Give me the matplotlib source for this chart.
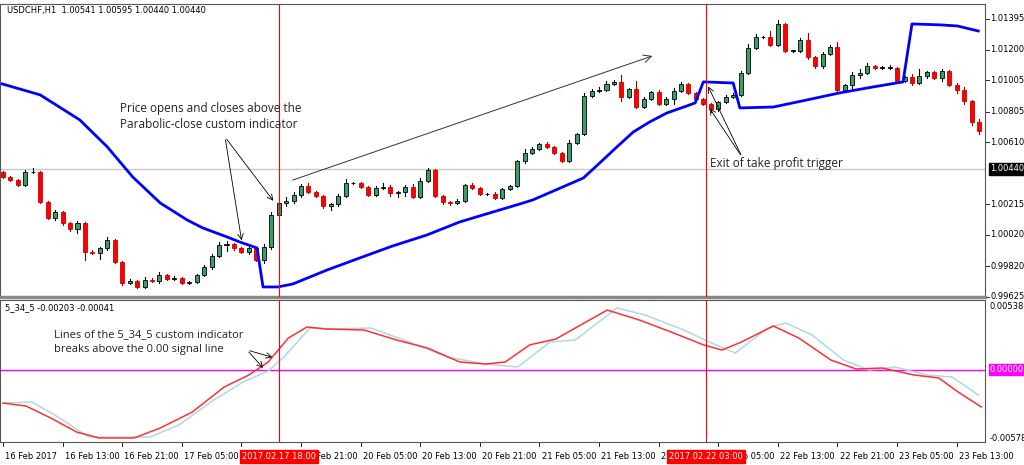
import matplotlib
matplotlib.use('Agg')
import matplotlib.pyplot as plt
from matplotlib.patches import Rectangle, FancyArrowPatch

plt.rcParams['font.family'] = ['Open Sans', 'DejaVu Sans']
NARROW = ['DejaVu Sans']

# USDCHF H1 closes (opens = previous close)
first_open = 1.00420
closes = [
    1.00389, 1.00369, 1.00338, 1.00420, 1.00420, 1.00229, 1.00127, 1.00166, 1.00096, 1.00057,
    1.00096, 0.99911, 0.99904, 0.99936, 0.99987, 0.99847, 0.99713, 0.99726, 0.99688, 0.99732,
    0.99726, 0.99764, 0.99739, 0.99745, 0.99713, 0.99720, 0.99764, 0.99815, 0.99885, 0.99955,
    0.99962, 0.99936, 0.99911, 0.99936, 0.99860, 0.99943, 1.00146, 1.00223, 1.00236, 1.00274,
    1.00331, 1.00293, 1.00268, 1.00204, 1.00217, 1.00268, 1.00350, 1.00350, 1.00325, 1.00274,
    1.00318, 1.00325, 1.00287, 1.00293, 1.00325, 1.00261, 1.00363, 1.00433, 1.00268, 1.00229,
    1.00223, 1.00236, 1.00338, 1.00318, 1.00280, 1.00280, 1.00255, 1.00312, 1.00331, 1.00490,
    1.00541, 1.00567, 1.00599, 1.00580, 1.00541, 1.00490, 1.00605, 1.00662, 1.00905, 1.00936,
    1.00943, 1.00981, 1.00994, 1.00898, 1.00949, 1.00834, 1.00885, 1.00930, 1.00854, 1.00885,
    1.00936, 1.00981, 1.00924, 1.00885, 1.00854, 1.00822, 1.00866, 1.00898, 1.00911, 1.01051,
    1.01210, 1.01280, 1.01280, 1.01229, 1.01363, 1.01191, 1.01191, 1.01261, 1.01153, 1.01096,
    1.01172, 1.01217, 1.00943, 1.00975, 1.01038, 1.01051, 1.01096, 1.01083, 1.01083, 1.01083,
    1.01000, 1.01026, 1.00987, 1.01032, 1.01057, 1.01019, 1.01064, 1.00975, 1.00943, 1.00873,
    1.00739, 1.00682,
]
# wick sizes above / below body, in pips
upper_wick = [
    1, 1, 1, 2, 4, 1, 1, 2, 1, 1, 2, 1, 2, 1, 3, 1, 1, 2, 1, 3, 2, 3, 1, 2, 1, 1, 1, 2, 2, 3,
    3, 1, 1, 1, 1, 3, 3, 2, 4, 3, 2, 3, 1, 1, 1, 2, 4, 1, 1, 1, 2, 4, 2, 1, 2, 3, 3, 2, 1, 1,
    1, 2, 1, 2, 1, 1, 2, 1, 1, 1, 4, 2, 1, 2, 1, 1, 3, 1, 3, 2, 3, 3, 2, 6, 1, 7, 2, 1, 2, 2,
    3, 2, 1, 1, 1, 1, 1, 2, 2, 2, 4, 3, 1, 5, 4, 1, 1, 2, 6, 1, 2, 2, 4, 1, 3, 4, 3, 1, 2, 3,
    1, 1, 3, 6, 1, 1, 2, 1, 2, 3, 1, 3,
]
lower_wick = [
    1, 1, 1, 1, 1, 1, 1, 2, 2, 2, 4, 7, 1, 5, 2, 1, 2, 1, 1, 1, 1, 2, 1, 1, 1, 1, 1, 1, 2, 1,
    5, 2, 1, 2, 1, 3, 2, 2, 3, 2, 2, 1, 1, 2, 4, 2, 1, 1, 1, 1, 1, 1, 3, 4, 4, 1, 1, 1, 1, 2,
    2, 1, 1, 1, 1, 1, 1, 1, 1, 1, 2, 1, 1, 1, 1, 1, 1, 1, 1, 1, 1, 1, 1, 4, 1, 1, 1, 1, 1, 1,
    5, 1, 1, 1, 1, 3, 2, 1, 1, 1, 1, 1, 1, 1, 1, 1, 1, 1, 2, 2, 2, 1, 1, 2, 4, 3, 1, 1, 1, 1,
    1, 1, 2, 1, 2, 1, 3, 1, 3, 3, 3, 3,
]

# Parabolic-close indicator (bar index, price)
psar_idx = [-0.1, 5.0, 10.3, 14.0, 17.4, 21.1, 24.7, 26.8, 30.1, 31.8, 34.1, 34.9, 36.9, 38.9,
            43.5, 47.9, 52.3, 56.9, 61.3, 65.8, 69.4, 71.1, 74.8, 77.9, 80.1, 82.4, 84.6, 86.8,
            89.1, 91.8, 92.9, 94.0, 98.0, 98.9, 103.4, 107.9, 112.3, 116.8, 120.8, 122.0, 125.8,
            128.1, 130.9]
psar_val = [1.00981, 1.00911, 1.00752, 1.00580, 1.00389, 1.00223, 1.00115, 1.00064, 1.00006,
            0.99974, 0.99936, 0.99688, 0.99688, 0.99707, 0.99796, 0.99873, 0.99949, 1.00019,
            1.00102, 1.00166, 1.00217, 1.00242, 1.00318, 1.00382, 1.00478, 1.00580, 1.00675,
            1.00739, 1.00796, 1.00841, 1.00860, 1.00994, 1.00987, 1.00828, 1.00834, 1.00879,
            1.00924, 1.00962, 1.00994, 1.01363, 1.01357, 1.01350, 1.01318]

# 5_34_5 oscillator lines
osc_red_idx = [0, 3.1, 6.4, 9.9, 12.9, 17.6, 21.1, 25.4, 29.7, 33.0, 35.6, 38.3, 40.8, 43.4,
               48.5, 52.8, 57.0, 61.3, 64.8, 67.4, 70.7, 74.2, 76.8, 81.1, 85.4, 89.7, 94.0,
               96.5, 99.1, 103.4, 106.8, 111.1, 114.5, 118.0, 122.3, 125.6, 128.2, 131.3]
osc_red_val = [-0.00282, -0.00307, -0.00408, -0.00527, -0.00577, -0.00577, -0.00493, -0.00358,
               -0.00146, -0.00045, 0.00065, 0.00268, 0.00361, 0.00344, 0.00335, 0.00251, 0.00183,
               0.00065, 0.00048, 0.00065, 0.00210, 0.00259, 0.00352, 0.00504, 0.00420, 0.00318,
               0.00210, 0.00166, 0.00234, 0.00369, 0.00268, 0.00082, 0.00006, 0.00014, -0.00045,
               -0.00070, -0.00189, -0.00315]
osc_blue_idx = [0, 3.9, 7.4, 11.5, 19.7, 23.6, 27.9, 32.2, 35.6, 37.7, 41.2, 44.2, 49.4, 54.5,
                59.6, 64.8, 69.1, 73.4, 76.8, 82.4, 86.2, 91.4, 94.8, 98.3, 102.6, 105.1, 108.6,
                112.8, 116.2, 119.7, 124.0, 127.4, 130.9]
osc_blue_val = [-0.00282, -0.00273, -0.00400, -0.00569, -0.00569, -0.00468, -0.00273, -0.00104,
                -0.00011, 0.00107, 0.00352, 0.00344, 0.00352, 0.00234, 0.00107, 0.00048, 0.00023,
                0.00234, 0.00251, 0.00521, 0.00462, 0.00335, 0.00234, 0.00141, 0.00352, 0.00394,
                0.00293, 0.00082, -0.00003, 0.00023, -0.00045, -0.00062, -0.00214]

price_ticks = [1.01395, 1.01200, 1.01005, 1.00805, 1.00610, 1.00215, 1.00020, 0.99820, 0.99625]
current_price = 1.00440
time_tick_idx = [0, 8, 16, 24, 32, 40, 48, 56, 64, 72, 80, 88, 96, 104, 112, 120, 128]
time_tick_lbl = ['16 Feb 2017', '16 Feb 13:00', '16 Feb 21:00', '17 Feb 05:00', '17 Feb 13:00',
                 '17 Feb 21:00', '20 Feb 05:00', '20 Feb 13:00', '20 Feb 21:00', '21 Feb 05:00',
                 '21 Feb 13:00', '21 Feb 21:00', '22 Feb 05:00', '22 Feb 13:00', '22 Feb 21:00',
                 '23 Feb 05:00', '23 Feb 13:00']
vlines = [(37, '2017.02.17 18:00'), (94.3, '2017.02.22 03:00')]

W, H = 1024, 465
fig = plt.figure(figsize=(W / 100, H / 100), dpi=100)
ax = fig.add_axes([0, (H - 297) / H, 985 / W, 293 / H])
ax2 = fig.add_axes([0, (H - 442) / H, 985 / W, 142 / H])
xmin, xmax = -0.4, 131.8
for a in (ax, ax2):
    a.set_xlim(xmin, xmax)
    a.set_xticks([])
    a.set_yticks([])
    for s in a.spines.values():
        s.set_color('#555555')
        s.set_linewidth(0.8)
ax.set_ylim(0.99624, 1.01490)
ax2.set_ylim(-0.00611, 0.00589)
ax.spines['bottom'].set_linewidth(2.5)
ax.spines['bottom'].set_color('#888888')

# candles
opens = [first_open] + closes[:-1]
for i, (o, c) in enumerate(zip(opens, closes)):
    hi = max(o, c) + upper_wick[i] * 0.0001 * 0.7
    lo = min(o, c) - lower_wick[i] * 0.0001 * 0.7
    if c > o:
        fc, ec, wc = '#3a9e68', 'black', 'black'
    elif c < o:
        fc, ec, wc = '#ff0000', '#cc0000', '#990000'
    else:
        fc, ec, wc = 'black', 'black', 'black'
    ax.plot([i, i], [lo, hi], color=wc, lw=0.8, zorder=2)
    body = max(abs(c - o), 0.00003)
    ax.add_patch(Rectangle((i - 0.27, min(o, c)), 0.54, body, facecolor=fc,
                           edgecolor=ec, lw=0.6, zorder=3))

ax.plot(psar_idx, psar_val, color='#0000ff', lw=2, zorder=4)
ax.axhline(current_price, color='#c8c8c8', lw=1, zorder=1)

ax2.plot(osc_blue_idx, osc_blue_val, color='#add8e6', lw=1.1, zorder=3)
ax2.plot(osc_red_idx, osc_red_val, color='#ff3030', lw=1.1, zorder=4)
ax2.axhline(0, color='#ff00ff', lw=1, zorder=2)

for xi, _ in vlines:
    ax.axvline(xi, color='#ff0000', lw=0.8, zorder=5)
    ax2.axvline(xi, color='#ff0000', lw=0.8, zorder=5)

# right axis labels
tf = dict(fontsize=6, family=NARROW, va='center', ha='left')
for p in price_ticks:
    ax.annotate(f'{p:.5f}', xy=(1, p), xycoords=('axes fraction', 'data'),
                xytext=(4, 0), textcoords='offset points', annotation_clip=False, **tf)
    ax.plot([1, 1.004], [p, p], transform=ax.get_yaxis_transform(), color='black', lw=0.6,
            clip_on=False)
ax.annotate(f'{current_price:.5f}', xy=(1, current_price), xycoords=('axes fraction', 'data'),
            xytext=(3.5, 0), textcoords='offset points', annotation_clip=False, color='white',
            bbox=dict(boxstyle='square,pad=0.15', fc='black', ec='black'), **tf)
for v, txt in [(0.00538, '0.00538'), (-0.00578, '-0.00578')]:
    ax2.annotate(txt, xy=(1, v), xycoords=('axes fraction', 'data'), xytext=(3, 0),
                 textcoords='offset points', annotation_clip=False, **tf)
ax2.annotate('0.00000', xy=(1, 0), xycoords=('axes fraction', 'data'), xytext=(3.5, 0),
             textcoords='offset points', annotation_clip=False, color='white',
             bbox=dict(boxstyle='square,pad=0.15', fc='#ff00ff', ec='#ff00ff'), **tf)

# time axis
for xi, lbl in zip(time_tick_idx, time_tick_lbl):
    ax2.plot([xi, xi], [0, -0.03], transform=ax2.get_xaxis_transform(), color='black',
             lw=0.6, clip_on=False)
    ax2.text(xi + 0.3, -0.07, lbl, transform=ax2.get_xaxis_transform(), fontsize=6,
             family=NARROW, ha='left', va='top')
for xi, lbl in vlines:
    ax2.text(xi, -0.07, lbl, transform=ax2.get_xaxis_transform(), fontsize=6,
             family=NARROW, ha='center', va='top', color='white', zorder=10,
             bbox=dict(boxstyle='square,pad=0.25', fc='#ff0000', ec='#ff0000'))

# headers
fig.text(7 / W, 1 - 10 / H, 'USDCHF,H1  1.00541 1.00595 1.00440 1.00440', fontsize=6,
         family=NARROW, va='center')
fig.text(5 / W, 1 - 308 / H, '5_34_5 -0.00203 -0.00041', fontsize=6,
         family=NARROW, va='center')

# annotations (figure pixel coordinates)
def px(x, y):
    return (x, H - y)

fig.text(120 / W, 1 - 116 / H, 'Price opens and closes above the\nParabolic-close custom indicator',
         fontsize=8.5, va='center', ha='left', color='#222222', linespacing=1.3)
arw = dict(arrowstyle='->', color='black', lw=0.6)
for tip in [(242, 243), (275, 203)]:
    fig.patches.append(FancyArrowPatch(px(225, 137), px(*tip), transform=None,
                                       mutation_scale=10, **arw))
fig.patches.append(FancyArrowPatch(px(290, 181), px(655, 55), transform=None,
                                   mutation_scale=14, arrowstyle='->', color='#333333', lw=0.7))
fig.text(710 / W, 1 - 163 / H, 'Exit of take profit trigger', fontsize=8.5, va='center',
         ha='left', color='#222222')
for tip in [(707, 84), (708, 106)]:
    fig.patches.append(FancyArrowPatch(px(742, 157), px(*tip), transform=None,
                                       mutation_scale=10, **arw))
fig.text(54 / W, 1 - 342 / H, 'Lines of the 5_34_5 custom indicator\nbreaks above the 0.00 signal line',
         fontsize=8, va='center', ha='left', color='#222222', linespacing=1.5)
for tip in [(275, 358), (265, 370)]:
    fig.patches.append(FancyArrowPatch(px(247, 350), px(*tip), transform=None,
                                       mutation_scale=10, **arw))

fig.savefig('out.png', dpi=100)
